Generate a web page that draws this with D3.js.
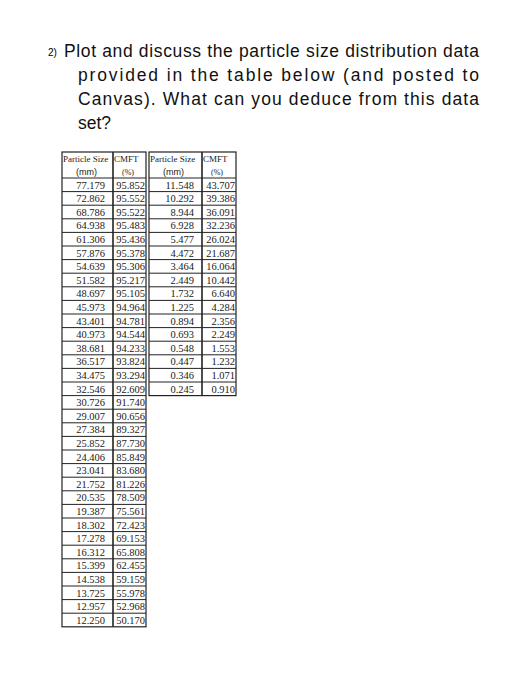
<!DOCTYPE html>
<html><head><meta charset="utf-8">
<script src="https://cdn.jsdelivr.net/npm/d3@7"></script>
<style>body{margin:0;background:#fff}</style>
</head><body>
<script>
// question text lines
const questionLines = [
  "Plot and discuss the particle size distribution data",
  "provided in the table below (and posted to",
  "Canvas).  What can you deduce from this data",
  "set?"
];
// particle size (mm) and cumulative mass fraction (%)
const size1 = ["77.179","72.862","68.786","64.938","61.306","57.876","54.639","51.582","48.697","45.973","43.401","40.973","38.681","36.517","34.475","32.546","30.726","29.007","27.384","25.852","24.406","23.041","21.752","20.535","19.387","18.302","17.278","16.312","15.399","14.538","13.725","12.957","12.250"];
const cmft1 = ["95.852","95.552","95.522","95.483","95.436","95.378","95.306","95.217","95.105","94.964","94.781","94.544","94.233","93.824","93.294","92.609","91.740","90.656","89.327","87.730","85.849","83.680","81.226","78.509","75.561","72.423","69.153","65.808","62.455","59.159","55.978","52.968","50.170"];
const size2 = ["11.548","10.292","8.944","6.928","5.477","4.472","3.464","2.449","1.732","1.225","0.894","0.693","0.548","0.447","0.346","0.245"];
const cmft2 = ["43.707","39.386","36.091","32.236","26.024","21.687","16.064","10.442","6.640","4.284","2.356","2.249","1.553","1.232","1.071","0.910"];

const svg = d3.select("body").append("svg").attr("width",527).attr("height",700);

// question
svg.append("text").attr("x",48).attr("y",56).attr("font-family","Liberation Sans").attr("font-size",10).text("2)");
const ql = d3.scaleLinear().domain([0,1]).range([57,81]);
questionLines.forEach((t,i)=>{
  const tx = svg.append("text").attr("x", i===0?64:78).attr("y", ql(i))
    .attr("font-family","Liberation Sans").attr("font-size",17.5).attr("fill","#111").text(t);
  if(i<3) tx.attr("textLength", i===0?415:401).attr("lengthAdjust","spacing");
});

const rowY = d3.scaleLinear().domain([0,1]).range([178,191.6]);
function table(x0, xm, x1, sizes, cmfts){
  const g = svg.append("g");
  const n = sizes.length;
  const y0 = 152, yEnd = rowY(n);
  g.append("rect").attr("x",x0).attr("y",y0).attr("width",x1-x0).attr("height",yEnd-y0)
    .attr("fill","none").attr("stroke","#222").attr("stroke-width",1.2);
  g.append("line").attr("x1",xm).attr("x2",xm).attr("y1",y0).attr("y2",yEnd).attr("stroke","#222").attr("stroke-width",1.6);
  d3.range(n).forEach(i=>g.append("line").attr("x1",x0).attr("x2",x1).attr("y1",rowY(i)).attr("y2",rowY(i)).attr("stroke","#222").attr("stroke-width",1));
  const add=(x,y,t,fs,ff,anchor)=>g.append("text").attr("x",x).attr("y",y).attr("text-anchor",anchor)
    .attr("font-family",ff).attr("font-size",fs).attr("fill","#222").text(t);
  add(x0+1,162,"Particle Size",9,"Liberation Serif","start");
  add(x0+14,175,"(mm)",9,"Liberation Sans","start");
  add(xm+1,162,"CMFT",9,"Liberation Serif","start");
  add(xm+9,175,"(%)",8,"Liberation Serif","start");
  sizes.forEach((s,i)=>{
    add(xm-8, rowY(i)+10.5, s, 10.5, "Liberation Serif", "end");
    add(x1-1, rowY(i)+10.5, cmfts[i], 10.5, "Liberation Serif", "end");
  });
}
table(62,113,146,size1,cmft1);
table(149,202,236,size2,cmft2);
</script>
</body></html>
